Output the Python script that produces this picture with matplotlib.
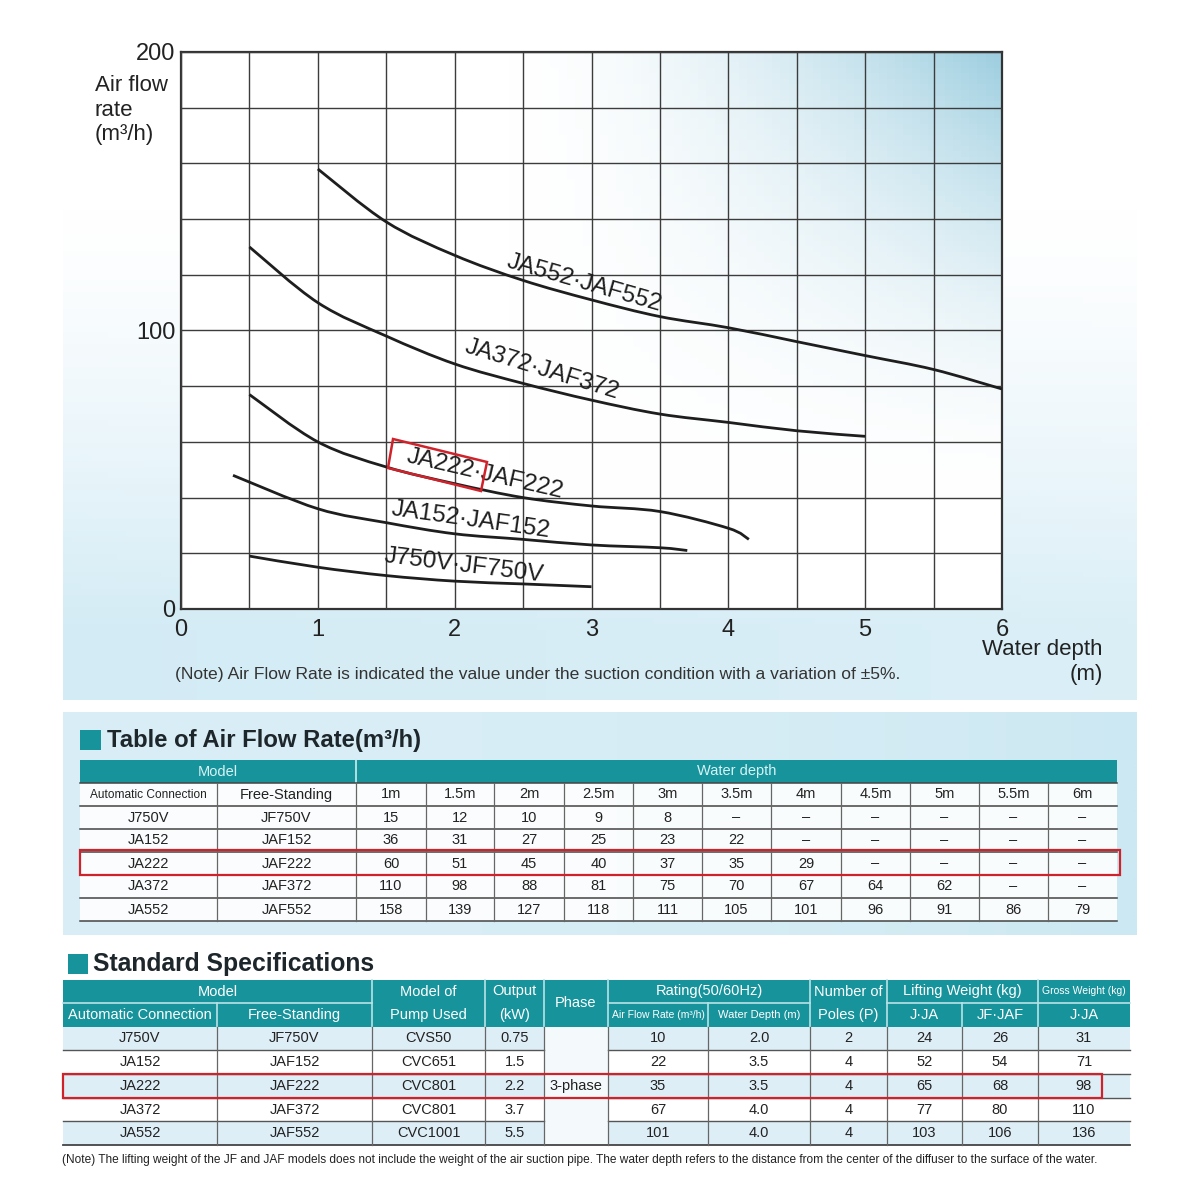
import numpy as np
import matplotlib
matplotlib.use('Agg')
import matplotlib.pyplot as plt
from matplotlib.patches import Rectangle, Polygon, PathPatch
from matplotlib.path import Path
from matplotlib import font_manager

plt.rcParams['font.family'] = ['Liberation Sans', 'DejaVu Sans']
names = {f.name for f in font_manager.fontManager.ttflist}
narrow = ['Liberation Sans Narrow', 'Liberation Sans'] if 'Liberation Sans Narrow' in names else ['Liberation Sans']
has_narrow = 'Liberation Sans Narrow' in names

# ---- data ----
depth_labels = ['1m', '1.5m', '2m', '2.5m', '3m', '3.5m', '4m', '4.5m', '5m', '5.5m', '6m']
depths = [1.0, 1.5, 2.0, 2.5, 3.0, 3.5, 4.0, 4.5, 5.0, 5.5, 6.0]
auto_models = ['J750V', 'JA152', 'JA222', 'JA372', 'JA552']
free_models = ['JF750V', 'JAF152', 'JAF222', 'JAF372', 'JAF552']

flow_j750v = [15, 12, 10, 9, 8, None, None, None, None, None, None]
flow_ja152 = [36, 31, 27, 25, 23, 22, None, None, None, None, None]
flow_ja222 = [60, 51, 45, 40, 37, 35, 29, None, None, None, None]
flow_ja372 = [110, 98, 88, 81, 75, 70, 67, 64, 62, None, None]
flow_ja552 = [158, 139, 127, 118, 111, 105, 101, 96, 91, 86, 79]
flows = [flow_j750v, flow_ja152, flow_ja222, flow_ja372, flow_ja552]

# curve ends (outside the table range)
start_x = [0.5, 0.38, 0.5, 0.5, None]
start_y = [19, 48, 77, 130, None]
end_x = [None, 3.7, 4.15, None, None]
end_y = [None, 21, 25, None, None]

curve_labels = ['J750V\u00b7JF750V', 'JA152\u00b7JAF152', 'JA222\u00b7JAF222',
                'JA372\u00b7JAF372', 'JA552\u00b7JAF552']
label_x = [2.07, 2.12, 2.22, 2.64, 2.95]
label_y = [15.5, 32, 48.5, 86, 117]
label_rot = [-7, -8, -13, -17, -16]

pump_used = ['CVS50', 'CVC651', 'CVC801', 'CVC801', 'CVC1001']
output_kw = ['0.75', '1.5', '2.2', '3.7', '5.5']
rated_flow = [10, 22, 35, 67, 101]
rated_depth = ['2.0', '3.5', '3.5', '4.0', '4.0']
poles = [2, 4, 4, 4, 4]
lift_j = [24, 52, 65, 77, 103]
lift_jf = [26, 54, 68, 80, 106]
gross_j = [31, 71, 98, 110, 136]

TEAL = '#17939c'
DARK = '#222222'
RED = '#d0222a'

fig = plt.figure(figsize=(12, 12), dpi=100)

# ---- background ----
bg = fig.add_axes([0, 0, 1, 1])
yy, xx = np.mgrid[0:1:120j, 0:1:120j]
t = np.clip((yy - 0.3) / 0.6, 0, 1) ** 1.3 * (0.95 - 0.15 * xx)
blue = np.array([0.82, 0.92, 0.96])
img = (1 - t)[..., None] * np.ones(3) + t[..., None] * blue
bg.imshow(img, extent=(63, 1137, 700, 0), aspect='auto', zorder=0)
t2 = 0.75 + 0.25 * xx ** 3
blue2 = np.array([0.80, 0.91, 0.95])
img2 = (1 - t2)[..., None] * np.ones(3) + t2[..., None] * blue2
bg.imshow(img2, extent=(63, 1137, 935, 712), aspect='auto', zorder=0)
bg.set_xlim(0, 1200)
bg.set_ylim(1200, 0)
bg.axis('off')

# ---- chart ----
ax = fig.add_axes([181 / 1200, 1 - 609 / 1200, 821 / 1200, 557 / 1200])
ax.patch.set_alpha(0)
gy, gx = np.mgrid[0:1:100j, 0:1:100j]
gt = np.clip((gx - 0.4) / 0.6, 0, 1) ** 1.6 * np.clip((gy - 0.2) / 0.8, 0, 1) ** 1.6
cblue = np.array([0.62, 0.81, 0.88])
cimg = (1 - gt)[..., None] * np.ones(3) + gt[..., None] * cblue
ax.imshow(cimg, extent=(0, 6, 0, 200), origin='lower', aspect='auto', zorder=0)

ax.set_xlim(0, 6)
ax.set_ylim(0, 200)
ax.set_xticks(range(7))
ax.set_xticks(np.arange(0, 6.01, 0.5), minor=True)
ax.set_yticks([0, 100, 200])
ax.set_yticks(np.arange(0, 201, 20), minor=True)
ax.grid(which='both', color='#3c3c3c', lw=1.0, zorder=1)
ax.set_axisbelow(False)
ax.tick_params(which='both', length=0, labelsize=17, colors='#222')
ax.tick_params(axis='x', pad=7)
ax.tick_params(axis='y', pad=4)
for s in ax.spines.values():
    s.set_color('#333')
    s.set_linewidth(1.6)


def smooth_path(px, py):
    # catmull-rom through the points, drawn as cubic bezier pieces
    p = np.column_stack([px, py])
    verts = [p[0]]
    codes = [Path.MOVETO]
    n = len(p)
    for i in range(n - 1):
        p0 = p[i - 1] if i > 0 else p[i]
        p3 = p[i + 2] if i + 2 < n else p[i + 1]
        c1 = p[i] + (p[i + 1] - p0) / 6
        c2 = p[i + 1] - (p3 - p[i]) / 6
        verts += [c1, c2, p[i + 1]]
        codes += [Path.CURVE4] * 3
    return Path(verts, codes)


for k, vals in enumerate(flows):
    xs = [d for d, v in zip(depths, vals) if v is not None]
    ys = [v for v in vals if v is not None]
    if start_x[k] is not None:
        xs = [start_x[k]] + xs
        ys = [start_y[k]] + ys
    if end_x[k] is not None:
        xs = xs + [end_x[k]]
        ys = ys + [end_y[k]]
    ax.add_patch(PathPatch(smooth_path(xs, ys), fc='none', ec='#1e1e1e', lw=2.0, zorder=3))
    ax.text(label_x[k], label_y[k], curve_labels[k], rotation=label_rot[k],
            rotation_mode='anchor', ha='center', va='center', fontsize=17.5,
            color='#1e1e1e', zorder=4)

fig.text(95 / 1200, 1 - 110 / 1200, 'Air flow\nrate\n(m\u00b3/h)', ha='left', va='center',
         fontsize=16, color='#222', linespacing=1.2)
fig.text(1103 / 1200, 1 - 662 / 1200, 'Water depth\n(m)', ha='right', va='center',
         fontsize=16, color='#222', linespacing=1.2, multialignment='right')
fig.text(175 / 1200, 1 - 674 / 1200,
         '(Note) Air Flow Rate is indicated the value under the suction condition with a variation of \u00b15%.',
         ha='left', va='center', fontsize=12.6, color='#333')

# ---- tables ----
ov = fig.add_axes([0, 0, 1, 1])
ov.patch.set_alpha(0)
ov.set_xlim(0, 1200)
ov.set_ylim(1200, 0)
ov.axis('off')


def txt(x, y, s, size=10.5, color=DARK, family=None, weight='normal'):
    ov.text(x, y, s, ha='center', va='center', fontsize=size, color=color,
            family=family if family else ['Liberation Sans', 'DejaVu Sans'], weight=weight)


# highlight on the JA222 curve label
ov.add_patch(Polygon([(393, 439), (487, 462), (481, 491), (388, 468)], closed=True,
                     fc='none', ec=RED, lw=1.8, zorder=10))

# table 1
ov.add_patch(Rectangle((80, 730), 21, 20, fc=TEAL, ec='none'))
ov.text(107, 740, 'Table of Air Flow Rate(m\u00b3/h)', ha='left', va='center', fontsize=17.2,
        weight='bold', color='#1d262b')

c1 = [80, 217, 356, 426, 494, 564, 633, 702, 771, 841, 910, 979, 1048, 1117]
r1 = [760, 783, 806, 829, 852, 875, 898, 921]
ov.add_patch(Rectangle((c1[0], r1[0]), c1[-1] - c1[0], r1[1] - r1[0], fc=TEAL, ec='none'))
ov.add_patch(Rectangle((c1[0], r1[1]), c1[-1] - c1[0], r1[-1] - r1[1], fc='white', ec='none', alpha=0.88))
ov.plot([356, 356], [r1[0], r1[1]], color='#cdeef1', lw=1.2)
txt((c1[0] + c1[2]) / 2, (r1[0] + r1[1]) / 2, 'Model', color='#d6f2f4')
txt((c1[2] + c1[-1]) / 2, (r1[0] + r1[1]) / 2, 'Water depth', color='#d6f2f4')
for y in r1[1:]:
    ov.plot([c1[0], c1[-1]], [y, y], color='#444', lw=1.1)
for x in c1[1:-1]:
    ov.plot([x, x], [r1[1], r1[-1]], color='#666', lw=0.9)

ym = (r1[1] + r1[2]) / 2
txt((c1[0] + c1[1]) / 2, ym, 'Automatic Connection', size=10 if has_narrow else 8.6, family=narrow)
txt((c1[1] + c1[2]) / 2, ym, 'Free-Standing', size=10.5)
for j, lab in enumerate(depth_labels):
    txt((c1[j + 2] + c1[j + 3]) / 2, ym, lab, size=10.5)
for i in range(5):
    ym = (r1[i + 2] + r1[i + 3]) / 2
    txt((c1[0] + c1[1]) / 2, ym, auto_models[i])
    txt((c1[1] + c1[2]) / 2, ym, free_models[i])
    for j, v in enumerate(flows[i]):
        txt((c1[j + 2] + c1[j + 3]) / 2, ym, '\u2013' if v is None else str(v))
ov.add_patch(Rectangle((80, 850), 1040, 25, fc='none', ec=RED, lw=1.6, zorder=10))

# table 2
ov.add_patch(Rectangle((68, 954), 20, 20, fc=TEAL, ec='none'))
ov.text(93, 964, 'Standard Specifications', ha='left', va='center', fontsize=17.8,
        weight='bold', color='#1d262b')

c2 = [63, 217, 372, 485, 544, 608, 708, 810, 887, 962, 1038, 1130]
r2 = [980, 1003, 1027, 1050, 1074, 1098, 1121, 1145]
ov.add_patch(Rectangle((c2[0], r2[0]), c2[-1] - c2[0], r2[2] - r2[0], fc=TEAL, ec='none'))
stripe = ['#deeef6', 'white', '#deeef6', 'white', '#deeef6']
for i in range(5):
    ov.add_patch(Rectangle((c2[0], r2[i + 2]), c2[-1] - c2[0], r2[i + 3] - r2[i + 2],
                           fc=stripe[i], ec='none'))
ov.add_patch(Rectangle((c2[4], r2[2]), c2[5] - c2[4], r2[-1] - r2[2], fc='#f4fafc', ec='none'))

sep = '#b8e3e7'
for x in [372, 485, 544, 608, 810, 887, 1038]:
    ov.plot([x, x], [r2[0], r2[2]], color=sep, lw=1.2)
for x in [217, 708, 962]:
    ov.plot([x, x], [r2[1], r2[2]], color=sep, lw=1.2)
for xa, xb in [(63, 372), (608, 810), (887, 1130)]:
    ov.plot([xa, xb], [r2[1], r2[1]], color=sep, lw=1.2)

hy1 = (r2[0] + r2[1]) / 2
hy2 = (r2[1] + r2[2]) / 2
W = 'white'
txt((c2[0] + c2[2]) / 2, hy1, 'Model', color=W)
txt((c2[0] + c2[1]) / 2, hy2, 'Automatic Connection', color=W)
txt((c2[1] + c2[2]) / 2, hy2, 'Free-Standing', color=W)
txt((c2[2] + c2[3]) / 2, hy1, 'Model of', color=W)
txt((c2[2] + c2[3]) / 2, hy2, 'Pump Used', color=W)
txt((c2[3] + c2[4]) / 2, hy1, 'Output', color=W)
txt((c2[3] + c2[4]) / 2, hy2, '(kW)', color=W)
txt((c2[4] + c2[5]) / 2, r2[1], 'Phase', color=W)
txt((c2[5] + c2[7]) / 2, hy1, 'Rating(50/60Hz)', color=W)
txt((c2[5] + c2[6]) / 2, hy2, 'Air Flow Rate (m\u00b3/h)', size=7.5, color=W, family=narrow)
txt((c2[6] + c2[7]) / 2, hy2, 'Water Depth (m)', size=8, color=W, family=narrow)
txt((c2[7] + c2[8]) / 2, hy1, 'Number of', color=W)
txt((c2[7] + c2[8]) / 2, hy2, 'Poles (P)', color=W)
txt((c2[8] + c2[10]) / 2, hy1, 'Lifting Weight (kg)', color=W)
txt((c2[8] + c2[9]) / 2, hy2, 'J\u00b7JA', color=W)
txt((c2[9] + c2[10]) / 2, hy2, 'JF\u00b7JAF', color=W)
txt((c2[10] + c2[11]) / 2, hy1, 'Gross Weight (kg)', size=7.5, color=W, family=narrow)
txt((c2[10] + c2[11]) / 2, hy2, 'J\u00b7JA', color=W)

for y in r2[3:-1]:
    ov.plot([c2[0], c2[4]], [y, y], color='#555', lw=1.0)
    ov.plot([c2[5], c2[-1]], [y, y], color='#555', lw=1.0)
ov.plot([c2[0], c2[-1]], [r2[-1], r2[-1]], color='#444', lw=1.3)
for x in c2[1:-1]:
    ov.plot([x, x], [r2[2], r2[-1]], color='#666', lw=0.9)

for i in range(5):
    ym = (r2[i + 2] + r2[i + 3]) / 2
    row = [auto_models[i], free_models[i], pump_used[i], output_kw[i], None,
           rated_flow[i], rated_depth[i], poles[i], lift_j[i], lift_jf[i], gross_j[i]]
    for j, v in enumerate(row):
        if v is not None:
            txt((c2[j] + c2[j + 1]) / 2, ym, str(v))
txt((c2[4] + c2[5]) / 2, (r2[4] + r2[5]) / 2, '3-phase')
ov.add_patch(Rectangle((63, 1074), 1039, 24, fc='none', ec=RED, lw=1.6, zorder=10))

ov.text(62, 1160, '(Note) The lifting weight of the JF and JAF models does not include the weight of '
        'the air suction pipe. The water depth refers to the distance from the center of the diffuser '
        'to the surface of the water.', ha='left', va='center', fontsize=8.6, color='#222')

fig.savefig('out.png', dpi=100)
